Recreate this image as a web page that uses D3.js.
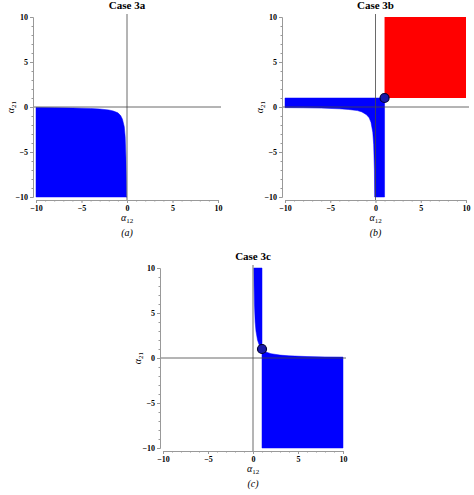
<!DOCTYPE html>
<html><head><meta charset="utf-8">
<script src="https://cdn.jsdelivr.net/npm/d3@7"></script>
<style>body{margin:0;background:#fff}</style></head>
<body><svg id="c" width="474" height="495"></svg>
<script>
const titles = ["Case 3a","Case 3b","Case 3c"];
const captions = ["(a)","(b)","(c)"];
const tickValues = [-10,-5,0,5,10];
// boundary: case 3a lower-left region top curve
const curveA = [[-10,-0.05],[-8,-0.07],[-6,-0.1],[-4,-0.16],[-3,-0.22],[-2,-0.33],[-1.5,-0.45],[-1,-0.65],[-0.7,-0.95],[-0.5,-1.35],[-0.3,-2.2],[-0.2,-3.3],[-0.12,-5.5],[-0.08,-8],[-0.06,-10]];
// case 3b blue band lower curve (x<0)
const curveB = [[-10,-0.07],[-8,-0.09],[-6,-0.12],[-4,-0.2],[-3,-0.27],[-2,-0.4],[-1.5,-0.55],[-1,-0.85],[-0.7,-1.2],[-0.5,-1.7],[-0.3,-2.8],[-0.2,-4.2],[-0.12,-7],[-0.09,-10]];
const rectB = [[1,1],[10,10]];
// case 3c curve (xy boundary)
const curveC = [[0.1,10],[0.12,8],[0.16,6],[0.24,4],[0.33,3],[0.5,2],[0.67,1.5],[1,1],[1.5,0.65],[2,0.48],[3,0.32],[4,0.24],[6,0.16],[8,0.12],[10,0.1]];
const point = [1,1];

const svg = d3.select("#c");
const fmt = d => (d<0?"\u2212":"")+Math.abs(d);

function panel(i, x0, x1, y0, y1, draw){
  const x = d3.scaleLinear().domain([-10,10]).range([x0,x1]);
  const y = d3.scaleLinear().domain([-10,10]).range([y1,y0]);
  const g = svg.append("g");
  draw(g,x,y);
  // origin axes
  g.append("line").attr("x1",x0-3).attr("x2",x1+3).attr("y1",y(0)).attr("y2",y(0)).attr("stroke","#444").attr("stroke-width",0.8);
  g.append("line").attr("x1",x(0)).attr("x2",x(0)).attr("y1",y0-3).attr("y2",y1+3).attr("stroke","#444").attr("stroke-width",0.8);
  // frame axes
  const minor = d3.range(-10,10.01,1);
  const ax = g.append("g").attr("transform",`translate(0,${y1+3})`)
    .call(d3.axisBottom(x).tickValues(tickValues).tickFormat(fmt).tickSize(3).tickPadding(2));
  g.append("g").attr("transform",`translate(0,${y1+3})`)
    .call(d3.axisBottom(x).tickValues(minor).tickFormat("").tickSize(1.5)).select(".domain").remove();
  const ay = g.append("g").attr("transform",`translate(${x0-3},0)`)
    .call(d3.axisLeft(y).tickValues(tickValues).tickFormat(fmt).tickSize(3).tickPadding(2));
  g.append("g").attr("transform",`translate(${x0-3},0)`)
    .call(d3.axisLeft(y).tickValues(minor).tickFormat("").tickSize(1.5)).select(".domain").remove();
  g.selectAll(".domain").attr("stroke","#999");
  g.selectAll(".tick line").attr("stroke","#999");
  g.selectAll(".tick text").attr("font-family","Liberation Serif").attr("font-weight","bold").attr("font-size",8).attr("fill","#000");
  const mx=(x0+x1)/2;
  g.append("text").attr("x",mx).attr("y",y0-8).attr("text-anchor","middle").attr("font-family","Liberation Serif").attr("font-weight","bold").attr("font-size",11).text(titles[i]);
  g.append("text").attr("x",mx).attr("y",y1+24).attr("text-anchor","middle").attr("font-family","Liberation Serif").attr("font-style","italic").attr("font-size",10).html('α<tspan font-size="7" dy="2" font-style="normal">12</tspan>');
  g.append("text").attr("transform",`translate(${x0-22},${(y0+y1)/2}) rotate(-90)`).attr("text-anchor","middle").attr("font-family","Liberation Serif").attr("font-style","italic").attr("font-size",10).html('α<tspan font-size="7" dy="2" font-style="normal">21</tspan>');
  g.append("text").attr("x",mx).attr("y",y1+39).attr("text-anchor","middle").attr("font-family","Liberation Serif").attr("font-style","italic").attr("font-size",10).text(captions[i]);
}
const line = (x,y)=>d3.line().x(d=>x(d[0])).y(d=>y(d[1]));

panel(0,36,218,17,197,(g,x,y)=>{
  const pts=[[-10,-10]].concat(curveA).concat([[0,-10]]);
  g.append("path").attr("d",line(x,y)(pts)+"Z").attr("fill","#0000ff").attr("stroke","#0000ff").attr("stroke-width",0.5);
});
panel(1,285,466,17,197,(g,x,y)=>{
  g.append("rect").attr("x",x(rectB[0][0])).attr("y",y(rectB[1][1])).attr("width",x(rectB[1][0])-x(rectB[0][0])).attr("height",y(rectB[0][1])-y(rectB[1][1])).attr("fill","#ff0000");
  const pts=[[-10,1],[1,1],[1,-10],[0,-10]].concat(curveB.slice().reverse()).concat([[-10,-0.07]]);
  g.append("path").attr("d",line(x,y)(pts)+"Z").attr("fill","#0000ff").attr("stroke","#0000ff").attr("stroke-width",0.5);
  g.append("circle").attr("cx",x(point[0])).attr("cy",y(point[1])).attr("r",4.5).attr("fill","#1a1aa8").attr("stroke","#000033").attr("stroke-width",1.2);
});
panel(2,163,343,268,448,(g,x,y)=>{
  const pts=[[1,10]].concat(curveC).concat([[10,-10],[1,-10]]);
  g.append("path").attr("d",line(x,y)(pts)+"Z").attr("fill","#0000ff").attr("stroke","#0000ff").attr("stroke-width",0.5);
  g.append("circle").attr("cx",x(point[0])).attr("cy",y(point[1])).attr("r",4.5).attr("fill","#1a1aa8").attr("stroke","#000033").attr("stroke-width",1.2);
});
</script></body></html>
